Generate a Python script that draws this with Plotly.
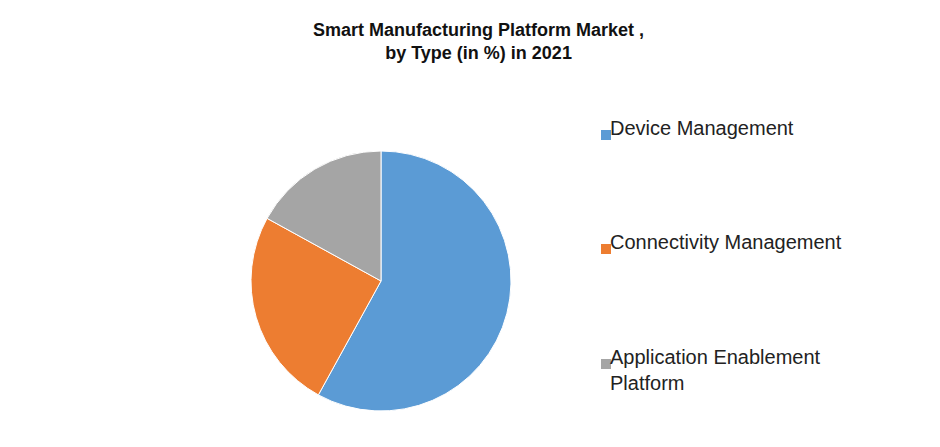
import plotly.graph_objects as go

labels = ["Device Management", "Connectivity Management", "Application Enablement<br>Platform"]
values = [58, 25, 17]
colors = ["#5b9bd5", "#ed7d31", "#a5a5a5"]

W, H = 940, 447
fig = go.Figure(go.Pie(
    labels=labels, values=values, sort=False, direction="clockwise", rotation=0,
    marker=dict(colors=colors, line=dict(color="white", width=1)),
    textinfo="none", hoverinfo="label+percent", showlegend=False,
    domain=dict(x=[243/W, 503/W], y=[(H-404)/H, (H-142)/H]),
))

leg_y = [127, 241, 356]
for lab, col, y in zip(labels, colors, leg_y):
    fig.add_shape(type="rect", xref="paper", yref="paper",
                  x0=593/W, x1=603/W, y0=(H-y-5)/H, y1=(H-y+5)/H,
                  fillcolor=col, line=dict(width=0))
    fig.add_annotation(text=lab, xref="paper", yref="paper", x=600/W, y=(H-y+20)/H,
                       xanchor="left", yanchor="top", align="left", showarrow=False,
                       font=dict(family="Liberation Sans, Arial", size=20, color="#222"))

fig.add_annotation(text="<b>Smart Manufacturing Platform Market ,<br>by Type (in %) in 2021</b>",
                   xref="paper", yref="paper", x=470/W, y=(H-10)/H, xanchor="center", yanchor="top",
                   showarrow=False, font=dict(family="Liberation Sans, Arial", size=18, color="#111"))

fig.update_layout(width=W, height=H, margin=dict(l=0, r=0, t=0, b=0),
                  paper_bgcolor="white", plot_bgcolor="white")
fig.write_html("out.html")
